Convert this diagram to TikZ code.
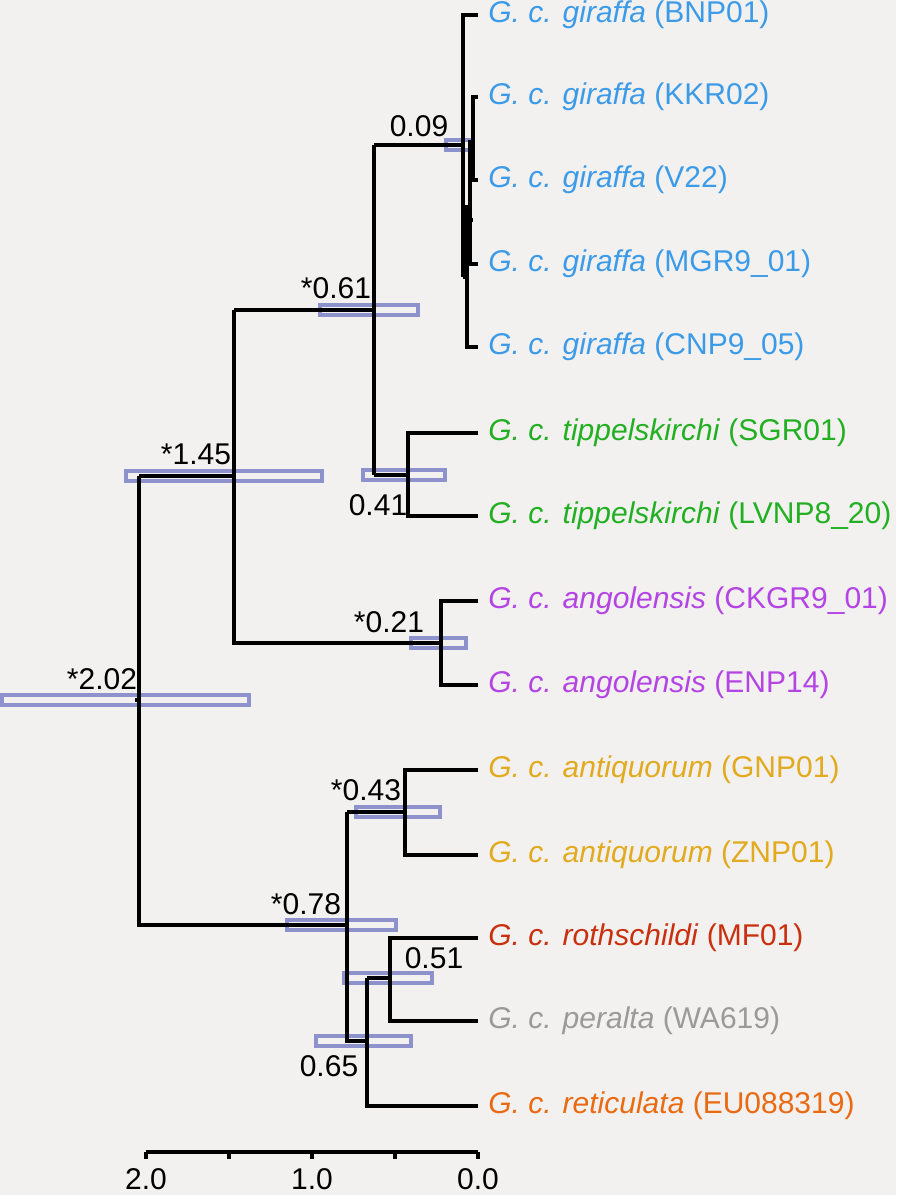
\documentclass[tikz,border=0pt]{standalone}
\usepackage{fontspec}
\setmainfont{Liberation Sans}
\definecolor{cblue}{HTML}{3C9BE8}
\definecolor{cgreen}{HTML}{22B022}
\definecolor{cmag}{HTML}{B444E4}
\definecolor{cgold}{HTML}{E2AA1E}
\definecolor{cred}{HTML}{C8300E}
\definecolor{cgrey}{HTML}{9A9A9A}
\definecolor{corange}{HTML}{EA6A12}
\definecolor{cbox}{HTML}{8E92CC}
\definecolor{bg}{HTML}{F2F1F0}
\begin{document}
\begin{tikzpicture}[x=0.75pt,y=-0.75pt,
  leaf/.style={anchor=west,font=\fontsize{22.5}{24}\selectfont,inner sep=0pt},
  lab/.style={font=\fontsize{22.5}{24}\selectfont,inner sep=0pt},
  br/.style={line width=2.3pt,black},
  hpd/.style={draw=cbox,line width=2.4pt}]
\fill[bg] (0,0) rectangle (896,1195);
\useasboundingbox (0,0) rectangle (896,1195);
% leaves
\node[leaf,text=cblue] (l1) at (488,15) {\textit{G. c. giraffa} (BNP01)};
\node[leaf,text=cblue] (l2) at (488,97) {\textit{G. c. giraffa} (KKR02)};
\node[leaf,text=cblue] (l3) at (488,180) {\textit{G. c. giraffa} (V22)};
\node[leaf,text=cblue] (l4) at (488,264) {\textit{G. c. giraffa} (MGR9\_01)};
\node[leaf,text=cblue] (l5) at (488,347) {\textit{G. c. giraffa} (CNP9\_05)};
\node[leaf,text=cgreen] (l6) at (488,433) {\textit{G. c. tippelskirchi} (SGR01)};
\node[leaf,text=cgreen] (l7) at (488,516) {\textit{G. c. tippelskirchi} (LVNP8\_20)};
\node[leaf,text=cmag] (l8) at (488,601) {\textit{G. c. angolensis} (CKGR9\_01)};
\node[leaf,text=cmag] (l9) at (488,685) {\textit{G. c. angolensis} (ENP14)};
\node[leaf,text=cgold] (l10) at (488,770) {\textit{G. c. antiquorum} (GNP01)};
\node[leaf,text=cgold] (l11) at (488,855) {\textit{G. c. antiquorum} (ZNP01)};
\node[leaf,text=cred] (l12) at (488,938) {\textit{G. c. rothschildi} (MF01)};
\node[leaf,text=cgrey] (l13) at (488,1021) {\textit{G. c. peralta} (WA619)};
\node[leaf,text=corange] (l14) at (488,1106) {\textit{G. c. reticulata} (EU088319)};
% HPD boxes
\draw[hpd] (446,140) rectangle (473,150);
\draw[hpd] (320,305) rectangle (418,315);
\draw[hpd] (363,470) rectangle (445,480);
\draw[hpd] (126,471) rectangle (322,481);
\draw[hpd] (411,638) rectangle (466,648);
\draw[hpd] (2,695) rectangle (249,705);
\draw[hpd] (356,807) rectangle (440,817);
\draw[hpd] (287,920) rectangle (396,930);
\draw[hpd] (344,973) rectangle (432,983);
\draw[hpd] (316,1036) rectangle (411,1046);
% giraffa clade
\draw[br] (l1.west)++(-10,0) -| (463,277);
\draw[br] (l2.west)++(-10,0) -| (473,180) -- (478,180);
\draw[br] (470,140) -- (470,264) -- (478,264);
\draw[br] (467,205) -- (467,347) -- (478,347);
\draw[br] (463,277) -- (467,277);
\draw[br] (470,220) -- (473,220) (467,240) -- (470,240);
\draw[br] (374,145) -- (463,145);
% 0.61
\draw[br] (374,145) -- (374,475);
\draw[br] (234,310) -- (374,310);
% tippelskirchi
\draw[br] (478,433) -| (408,516) -- (478,516);
\draw[br] (374,475) -- (408,475);
% 1.45
\draw[br] (234,310) -- (234,643) -- (441,643);
\draw[br] (139,476) -- (234,476);
% angolensis
\draw[br] (478,601) -| (441,685) -- (478,685);
% root
\draw[br] (139,476) -- (139,925) -- (347,925);
\draw[br] (135,700) -- (139,700);
% antiquorum
\draw[br] (478,770) -| (405,855) -- (478,855);
\draw[br] (347,812) -- (405,812);
\draw[br] (347,812) -- (347,1041) -- (367,1041);
% 0.51 / 0.65
\draw[br] (478,938) -| (390,1021) -- (478,1021);
\draw[br] (367,978) -- (390,978);
\draw[br] (367,978) -- (367,1106) -- (478,1106);
% labels
\node[lab] (n1) at (419,126) {0.09};
\node[lab] (n2) at (336,288) {*0.61};
\node[lab] (n3) at (378,505) {0.41};
\node[lab] (n4) at (196,454) {*1.45};
\node[lab] (n5) at (389,622) {*0.21};
\node[lab] (n6) at (102,679) {*2.02};
\node[lab] (n7) at (366,790) {*0.43};
\node[lab] (n8) at (306,904) {*0.78};
\node[lab] (n9) at (434,958) {0.51};
\node[lab] (n10) at (329,1066) {0.65};
% axis
\draw[br] (146,1152) -- (478,1152);
\foreach \x in {146,229,312,395,478} \draw[br] (\x,1152) -- (\x,1159);
\node[lab] (a2) at (146,1179) {2.0};
\node[lab] (a1) at (312,1179) {1.0};
\node[lab] (a0) at (478,1179) {0.0};
\end{tikzpicture}
\end{document}
